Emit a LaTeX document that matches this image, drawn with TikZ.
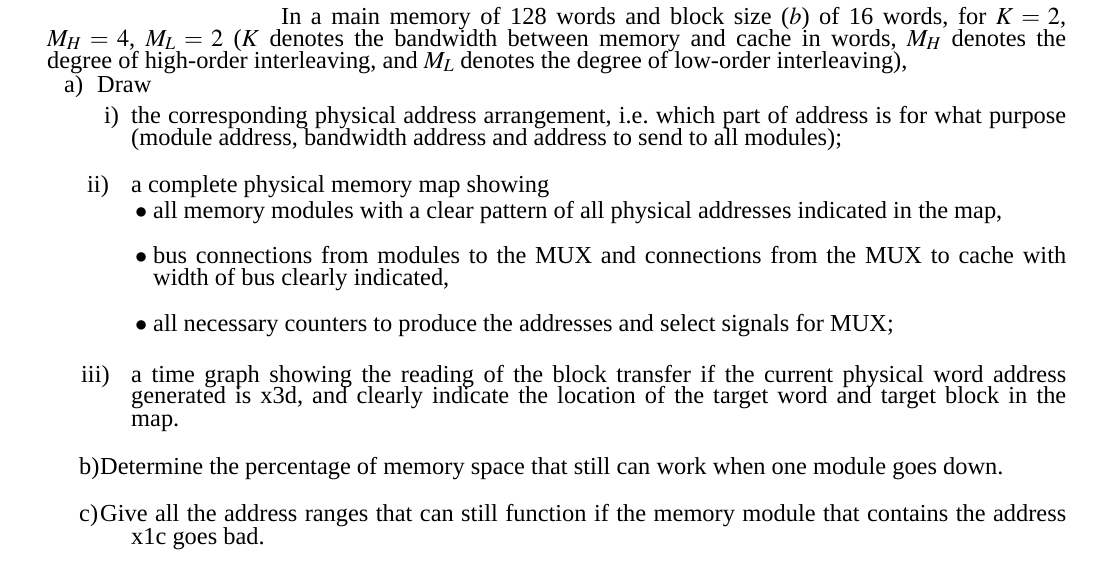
\documentclass[tikz,border=0pt]{standalone}
\usepackage{mathptmx}
\usepackage{fontspec}
\setmainfont{Liberation Serif}
\begin{document}
\frenchspacing
\begin{tikzpicture}[x=1pt,y=-1pt,every node/.style={inner sep=0pt,anchor=base west,font=\fontsize{24.4}{28}\selectfont\frenchspacing}]
\useasboundingbox[fill=white] (0,0) rectangle (1109,563);
\newcommand\jl[2]{\hbox to #1pt{#2}}
\node (l1) at (281,24) {\jl{785}{In a main memory of 128 words and block size ($b$) of 16 words, for $K=2$,}};
\node (l2) at (47,46) {\jl{1019}{$M_H=4$, $M_L=2$ ($K$ denotes the bandwidth between memory and cache in words, $M_H$ denotes the}};
\node (l3) at (47,68) {degree of high-order interleaving, and $M_L$ denotes the degree of low-order interleaving),};
\node (a) at (64,92) {a)};
\node (at) at (97,92) {Draw};
\node (i) at (104,123) {i)};
\node (it) at (131,123) {\jl{935}{the corresponding physical address arrangement, i.e. which part of address is for what purpose}};
\node (it2) at (131,145) {(module address, bandwidth address and address to send to all modules);};
\node (ii) at (87,192) {ii)};
\node (iit) at (131,192) {a complete physical memory map showing};
\node (b1) at (135,218) {$\bullet$};
\node (b1t) at (153,218) {all memory modules with a clear pattern of all physical addresses indicated in the map,};
\node (b2) at (135,263) {$\bullet$};
\node (b2t) at (153,263) {\jl{913}{bus connections from modules to the MUX and connections from the MUX to cache with}};
\node (b2t2) at (153,285) {width of bus clearly indicated,};
\node (b3) at (135,331) {$\bullet$};
\node (b3t) at (153,331) {all necessary counters to produce the addresses and select signals for MUX;};
\node (iii) at (81,382) {iii)};
\node (iiit) at (131,382) {\jl{935}{a time graph showing the reading of the block transfer if the current physical word address}};
\node (iiit2) at (131,403) {\jl{935}{generated is x3d, and clearly indicate the location of the target word and target block in the}};
\node (iiit3) at (131,426) {map.};
\node (b) at (79,474) {b)};
\node (bt) at (100,474) {Determine the percentage of memory space that still can work when one module goes down.};
\node (c) at (79,521) {c)};
\node (ct) at (100,521) {\jl{966}{Give all the address ranges that can still function if the memory module that contains the address}};
\node (ct2) at (131,544) {x1c goes bad.};
\end{tikzpicture}
\end{document}
